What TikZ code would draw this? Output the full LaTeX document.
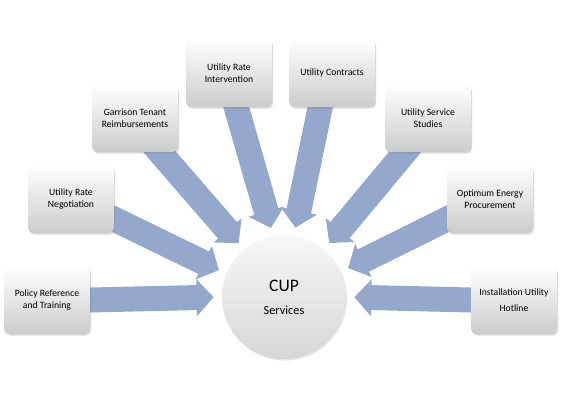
\documentclass[tikz,border=0pt]{standalone}
\usepackage{fontspec}
\setmainfont{Carlito}
\usetikzlibrary{arrows.meta, shadows, backgrounds}
\definecolor{arrowblue}{RGB}{148,168,206}
\tikzset{box/.style={rounded corners=3pt, top color=white, bottom color=gray!40, minimum width=1.72cm, minimum height=1.36cm, align=center, font=\fontsize{5.5}{6.8}\selectfont, drop shadow={opacity=0.3, shadow xshift=0.6pt, shadow yshift=-0.9pt}},
  hub/.style={circle, minimum size=2.48cm, top color=gray!6, bottom color=gray!32, align=center, drop shadow={opacity=0.2, shadow xshift=0.6pt, shadow yshift=-0.9pt}},
  fat/.style={draw=arrowblue, line width=0.5cm, -{Triangle[length=0.34cm, width=0.72cm]}, shorten >=0.16cm, shorten <=-0.3cm}}

\begin{document}
\begin{tikzpicture}[x=0.02cm, y=-0.02cm]
    \useasboundingbox (0,0) rectangle (562,400);
    \node[hub] (c) at (284,297) {{\fontsize{10}{12}\selectfont CUP}\\[1pt]{\fontsize{7}{8}\selectfont Services}};
    \node[box] (n1) at (47,300) {Policy Reference\\and Training};
    \node[box] (n2) at (71,199) {Utility Rate\\Negotiation};
    \node[box] (n3) at (135,118) {Garrison Tenant\\Reimbursements};
    \node[box] (n4) at (229,73) {Utility Rate\\Intervention};
    \node[box] (n5) at (332,73) {Utility Contracts};
    \node[box] (n6) at (428,118) {Utility Service\\Studies};
    \node[box] (n7) at (490,199) {Optimum Energy\\Procurement};
    \node[box] (n8) at (514,300) {Installation Utility\\[2pt]Hotline};

    \begin{scope}[on background layer]
        \draw[fat] (n1.0) -- (c.180);
        \draw[fat] (n2.-25) -- (c.158);
        \draw[fat] (n3.-54) -- (c.130);
        \draw[fat] (n4.-78) -- (c.100);
        \draw[fat] (n5.-109) -- (c.81);
        \draw[fat] (n6.-124) -- (c.50);
        \draw[fat] (n7.-155) -- (c.24);
        \draw[fat] (n8.180) -- (c.0);
    \end{scope}
\end{tikzpicture}
\end{document}
